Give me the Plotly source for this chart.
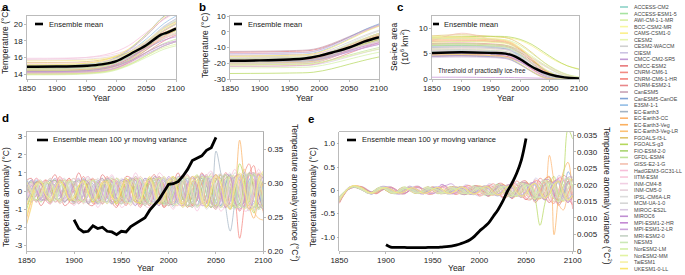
import plotly.graph_objects as go

W, H = 685, 275
def px(x): return x / W
def py(y): return 1 - y / H

models = ['ACCESS-CM2','ACCESS-ESM1-5','AWI-CM-1-1-MR','BCC-CSM2-MR','CAMS-CSM1-0','CESM2','CESM2-WACCM','CIESM',
          'CMCC-CM2-SR5','CMCC-ESM2','CNRM-CM6-1','CNRM-CM6-1-HR','CNRM-ESM2-1','CanESM5','CanESM5-CanOE','E3SM-1-1',
          'EC-Earth3','EC-Earth3-CC','EC-Earth3-Veg','EC-Earth3-Veg-LR','FGOALS-f3-L','FGOALS-g3','FIO-ESM-2-0','GFDL-ESM4',
          'GISS-E2-1-G','HadGEM3-GC31-LL','IITM-ESM','INM-CM4-8','INM-CM5-0','IPSL-CM6A-LR','MCM-UA-1-0','MIROC-ES2L',
          'MIROC6','MPI-ESM1-2-HR','MPI-ESM1-2-LR','MRI-ESM2-0','NESM3','NorESM2-LM','NorESM2-MM','TaiESM1','UKESM1-0-LL']
colors = ['#8dd3c7','#a6e3a0','#d9f0a3','#f7f7a0','#fbf08a','#e6f5b0','#d0d0d0','#cbc3e3','#c09ad6','#e8787a','#f28b82',
          '#f4827a','#e9878a','#c8a2b4','#7fa3d6','#92bde6','#a3b3c3','#fdb46e','#fbb060','#fcc176','#e0c46c','#b5d85c',
          '#a8d470','#bfe39a','#f3bfae','#f7bfd9','#f9c6da','#f1cfe3','#e8d2dc','#dcdcdc','#d6d6d6','#d9c9e2','#c08fd2',
          '#c48ad3','#cba4db','#c4d2c4','#cbe8b6','#d2f0a6','#e2f3a3','#f6f0a4','#f9e66e']

# ---- panel a: global temperature (°C) ----
years_ab = [1850, 1950, 1990, 2020, 2050, 2080, 2100]
temp_a = [
 [14.6,14.8,15.3,16.2,17.8,19.6,20.4],[14.3,14.4,14.8,15.6,16.9,18.3,18.9],[14.9,15.0,15.3,16.0,17.3,18.6,19.2],
 [15.2,15.3,15.7,16.5,17.7,19.0,19.6],[15.6,15.7,16.0,16.6,17.6,18.5,19.0],[14.6,14.7,15.2,16.2,17.8,19.6,20.5],
 [14.8,14.9,15.3,16.3,17.9,19.8,20.6],[14.2,14.4,15.0,16.1,17.8,19.7,20.7],[14.5,14.6,15.0,15.9,17.3,18.9,19.6],
 [14.4,14.5,14.9,15.8,17.2,18.8,19.5],[14.0,14.1,14.5,15.4,16.9,18.5,19.3],[14.7,14.8,15.2,16.1,17.6,19.2,20.0],
 [14.1,14.2,14.5,15.3,16.6,18.0,18.7],[14.8,15.0,15.6,16.8,18.6,20.7,21.5],[14.9,15.1,15.7,16.9,18.8,21.0,21.8],
 [15.0,15.2,15.6,16.6,18.2,20.1,21.0],[14.3,14.4,14.8,15.7,17.2,18.8,19.5],[14.6,14.7,15.2,16.2,17.8,19.5,20.3],
 [14.5,14.6,15.1,16.1,17.7,19.3,20.1],[14.2,14.3,14.7,15.6,17.1,18.6,19.3],[15.4,15.5,15.9,16.6,17.8,19.0,19.6],
 [14.0,14.1,14.4,15.1,16.2,17.4,17.9],[14.7,14.8,15.2,16.0,17.3,18.7,19.3],[14.4,14.5,14.8,15.5,16.6,17.7,18.2],
 [14.9,15.0,15.4,16.1,17.2,18.3,18.8],[15.8,16.0,16.5,17.4,19.0,20.6,21.4],[15.3,15.4,15.7,16.4,17.5,18.4,18.8],
 [15.9,16.0,16.3,16.9,17.8,18.6,19.0],[15.7,15.8,16.1,16.7,17.6,18.4,18.8],[14.6,14.7,15.1,16.1,17.7,19.6,20.4],
 [15.1,15.2,15.6,16.4,17.8,19.3,20.0],[14.1,14.2,14.5,15.2,16.3,17.4,17.9],[14.8,14.9,15.3,16.0,17.1,18.1,18.5],
 [14.3,14.4,14.8,15.5,16.6,17.6,18.0],[14.2,14.3,14.6,15.4,16.4,17.4,17.9],[14.8,14.9,15.3,16.1,17.4,18.8,19.4],
 [14.6,14.7,15.1,16.0,17.6,19.3,20.1],[13.9,14.0,14.3,15.0,16.0,17.0,17.4],[14.0,14.1,14.4,15.1,16.2,17.2,17.6],
 [15.0,15.1,15.6,16.5,18.0,19.5,20.2],[15.1,15.3,15.9,17.0,18.8,20.9,21.6]]
mean_a_years = [1850, 1900, 1950, 1975, 2000, 2025, 2050, 2075, 2085, 2100]
mean_a = [14.88, 14.9, 15.0, 15.16, 15.56, 16.48, 17.48, 18.76, 19.0, 19.48]

# ---- panel b: Arctic temperature (°C) ----
temp_b = [
 [-19,-18.5,-17.6,-14.2,-9.5,-4.7,-2],[-20,-19.6,-18.9,-16.1,-12.2,-8.2,-6],[-17,-16.6,-16,-13.4,-9.7,-6.1,-4],
 [-18,-17.6,-16.9,-14.1,-10.2,-6.2,-4],[-16,-15.6,-15,-12.6,-9.3,-5.9,-4],[-17,-16.5,-15.7,-12.5,-8,-3.6,-1],
 [-16,-15.5,-14.6,-11.2,-6.5,-1.7,1],[-20,-19.5,-18.6,-15,-9.9,-4.9,-2],[-17,-16.6,-15.8,-12.8,-8.6,-4.4,-2],
 [-13,-12.5,-11.6,-8.2,-3.5,1.3,4],[-21,-20.5,-19.7,-16.5,-12,-7.6,-5],[-19,-18.5,-17.6,-14.2,-9.5,-4.7,-2],
 [-22,-21.6,-20.8,-17.8,-13.6,-9.4,-7],[-12.5,-12,-11.1,-7.7,-3,1.8,4.5],[-14,-13.4,-12.5,-8.7,-3.4,2,5],
 [-15,-14.4,-13.5,-9.7,-4.4,1,4],[-19,-18.6,-17.8,-14.8,-10.6,-6.4,-4],[-18,-17.5,-16.6,-13.2,-8.5,-3.7,-1],
 [-18.5,-18,-17.2,-14,-9.5,-5.1,-2.5],[-20,-19.6,-18.8,-15.8,-11.6,-7.4,-5],[-17,-16.6,-16,-13.6,-10.3,-6.9,-5],
 [-26.5,-26.2,-25.7,-23.6,-20.6,-17.7,-16],[-19,-18.6,-17.9,-15.1,-11.2,-7.2,-5],[-21,-20.7,-20.1,-17.9,-14.8,-11.8,-10],
 [-18,-17.6,-17,-14.6,-11.3,-7.9,-6],[-14,-13.5,-12.6,-9,-3.9,1.1,4],[-15,-14.7,-14.1,-11.9,-8.8,-5.8,-4],
 [-17,-16.7,-16.2,-14.2,-11.4,-8.6,-7],[-16.5,-16.2,-15.7,-13.7,-10.9,-8.1,-6.5],[-17.5,-17,-16.1,-12.5,-7.4,-2.4,0.5],
 [-20.5,-20,-19.3,-16.3,-12.1,-7.9,-5.5],[-22,-21.7,-21.1,-18.9,-15.8,-12.8,-11],[-19,-18.7,-18.1,-15.9,-12.8,-9.8,-8],
 [-18,-17.7,-17.1,-14.9,-11.8,-8.8,-7],[-18.5,-18.2,-17.7,-15.6,-12.6,-9.7,-8],[-19,-18.6,-17.8,-14.8,-10.6,-6.4,-4],
 [-17,-16.5,-15.7,-12.5,-8,-3.6,-1],[-23,-22.7,-22.2,-20.2,-17.4,-14.6,-13],[-21,-20.7,-20.2,-18.2,-15.4,-12.6,-11],
 [-18,-17.5,-16.7,-13.5,-9,-4.6,-2],[-15.5,-14.9,-14,-10.2,-4.9,0.5,3.5]]
mean_b_years = [1850, 1900, 1950, 1975, 2000, 2025, 2050, 2075, 2100]
mean_b = [-18.4, -18.2, -17.6, -17.0, -15.3, -12.8, -10.0, -6.3, -3.5]

# ---- panel c: sea-ice area (10^6 km2) ----
years_c = [1850, 1900, 1950, 1980, 2000, 2020, 2040, 2060, 2080, 2100]
ice_c = [
 [5.5,5.6,5.4,5.1,4.0,2.4,0.9,0.1,0,0],[6.5,6.6,6.4,6.0,4.8,3.0,1.4,0.3,0,0],[6.0,6.1,6.0,5.7,4.6,3.0,1.5,0.5,0.1,0],
 [7.2,7.4,7.2,6.8,5.5,3.6,1.8,0.6,0.1,0],[8.3,8.4,8.3,8.1,7.6,6.5,5.0,3.6,2.6,2.0],[5.8,5.9,5.7,5.3,4.0,2.2,0.7,0.1,0,0],
 [6.1,6.2,6.0,5.6,4.3,2.4,0.8,0.1,0,0],[5.0,5.1,5.0,4.8,3.9,2.5,1.1,0.3,0,0],[4.6,4.7,4.6,4.3,3.3,1.9,0.6,0.1,0,0],
 [4.8,4.9,4.7,4.4,3.5,2.0,0.7,0.1,0,0],[6.8,6.9,6.7,6.3,5.0,3.2,1.4,0.4,0,0],[7.4,7.5,7.4,7.0,5.8,3.9,1.9,0.6,0.1,0],
 [7.0,7.1,6.9,6.5,5.3,3.5,1.7,0.5,0,0],[4.4,4.5,4.3,3.9,2.8,1.4,0.3,0,0,0],[4.5,4.6,4.4,4.0,2.9,1.5,0.4,0,0,0],
 [6.4,6.5,6.3,5.8,4.4,2.5,0.8,0.1,0,0],[6.2,6.4,6.2,5.8,4.7,3.0,1.3,0.3,0,0],[7.8,7.9,7.7,7.2,5.8,3.7,1.6,0.4,0,0],
 [8.0,8.2,7.9,7.4,6.0,3.9,1.8,0.5,0,0],[7.6,7.7,7.5,7.1,5.9,4.0,2.0,0.7,0.1,0],[8.5,8.7,8.4,8.0,6.9,5.2,3.3,1.8,0.8,0.3],
 [8.2,8.3,8.4,8.3,7.8,6.8,5.3,3.8,2.6,1.9],[6.6,6.7,6.5,6.2,5.2,3.6,2.0,0.8,0.2,0],[6.9,7.0,6.8,6.5,5.6,4.2,2.7,1.4,0.5,0.1],
 [7.5,9.0,7.8,7.0,5.6,3.6,1.6,0.4,0,0],[5.2,5.3,5.1,4.7,3.5,1.8,0.5,0,0,0],[5.6,5.7,5.5,5.2,4.3,2.9,1.5,0.5,0.1,0],
 [5.9,6.0,5.9,5.7,5.0,3.9,2.6,1.4,0.6,0.2],[6.3,6.4,6.3,6.1,5.4,4.2,2.9,1.7,0.8,0.3],[5.3,5.4,5.2,4.9,3.8,2.2,0.8,0.1,0,0],
 [5.0,5.1,5.2,5.0,4.3,3.2,2.0,1.1,0.4,0.1],[4.2,4.3,4.2,4.0,3.3,2.2,1.1,0.4,0.1,0],[4.5,4.6,4.5,4.2,3.4,2.2,1.0,0.3,0,0],
 [0.35,0.35,0.3,0.3,0.25,0.2,0.15,0.1,0.05,0],[4.9,5.0,4.9,4.6,3.7,2.3,1.0,0.2,0,0],[5.7,5.8,5.6,5.3,4.2,2.6,1.1,0.2,0,0],
 [6.7,6.8,6.6,6.2,4.9,3.0,1.2,0.2,0,0],[7.9,8.0,7.9,7.6,6.6,5.0,3.3,1.9,0.9,0.4],[7.3,7.4,7.3,7.0,6.0,4.5,2.9,1.5,0.6,0.2],
 [8.1,8.2,8.0,7.5,6.2,4.2,2.2,0.8,0.2,0],[4.7,4.8,4.6,4.2,3.0,1.5,0.3,0,0,0]]
mean_c_years = [1850, 1900, 1950, 1975, 1990, 2000, 2025, 2050, 2075, 2100]
mean_c = [5.13, 5.26, 5.13, 5.0, 4.5, 3.9, 2.1, 0.9, 0.32, 0.13]

# ---- panel d: temperature anomaly, tenths of °C, every 5 years 1850-2100 ----
years_de = list(range(1850, 2101, 5))
anom_d = [
"2 6 1 -5 -3|4 6 -1 -6 -2|5 5 -2 -6 1|6 3 -4 -5 2|6 1 -6 -4 3|7 0 -6 -3 5|6 -2 -7 0 7|4 -5 -6 3 8|1 -8 -4 6 7|-3 -9 1 9 3|-6",
"-4 -6 1 5 2|-4 -5 2 6 0|-6 -3 4 5 -2|-6 0 6 3 -4|-5 2 6 0 -6|-3 4 6 -2 -7|1 7 3 -5 -6|3 8 0 -8 -4|6 7 -3 -9 1|9 4 -7 -7 4|8",
"1 4 5 -1 -5|-2 4 5 0 -5|-3 3 5 -1 -6|-1 5 4 -3 -5|1 6 2 -5 -4|3 6 -1 -6 -1|6 4 -4 -6 2|7 1 -7 -3 6|7 -3 -8 1 8|3 -7 -6 5 8|-1",
"-18 -9 3 6 0|-5 -3 4 5 -2|-6 0 5 3 -4|-4 3 6 -1 -6|-1 5 4 -3 -5|2 6 0 -6 -3|4 6 -2 -7 0|7 3 -6 -5 4|8 -1 -8 -2 7|6 -5 -8 3 9|0",
"-12 -5 4 5 -1|-5 -2 4 4 -2|-5 1 5 2 -4|-4 2 5 0 -5|-2 4 4 -2 -5|0 5 3 -4 -5|2 6 0 -6 -3|5 5 -3 -6 1|6 2 -5 -4 3|6 -1 -6 -1 6|4",
"4 0 -5 -3 4|6 -1 -6 -1 6|3 -5 -5 3 6|-1 -7 -2 6 5|-3 -7 1 7 2|-6 -5 4 7 -2|-8 -1 7 5 -4|-7 2 8 1 -7|-5 5 8 -3 -9|0 9 5 -6 -8|3",
"-6 -1 5 6 -1|-7 -3 5 7 0|-7 -4 4 8 2|-7 -6 3 8 3|-6 -7 1 8 5|-4 -8 -1 7 7|-2 -9 -3 6 9|1 -9 -6 4 10|3 -8 -9 2 10|7 -6 -11 -1 10|8",
"1 -3 -3 2 4|0 -4 -2 3 4|-1 -5 0 5 2|-3 -4 2 5 0|-4 -3 3 5 -1|-5 -1 5 4 -3|-5 1 6 2 -5|-4 3 7 -1 -7|-2 6 6 -4 -7|1 8 3 -6 -5|4",
"-2 3 5 0 -5|-3 3 6 0 -5|-4 2 6 2 -5|-5 1 6 3 -4|-6 0 6 4 -3|-6 -1 6 5 -2|-7 -3 5 7 0|-7 -4 4 8 1|-7 -6 3 9 3|-7 -8 1 9 5|-4",
"6 7 -1 -8 -4|5 9 1 -8 -6|3 10 3 -7 -8|1 9 5 -6 -9|-1 8 7 -4 -9|-3 6 9 -1 -9|-6 4 10 1 -8|-8 2 10 4 -7|-10 -1 10 7 -5|-11 -4 9 10 -2|-11",
"-5 1 7 4 -5|-7 1 8 3 -6|-7 2 8 2 -7|-6 3 8 1 -8|-5 5 7 -1 -8|-4 6 7 -2 -9|-3 7 6 -4 -9|-1 8 5 -6 -9|1 9 3 -7 -8|3 10 15 2 -10|-4",
"3 -2 -6 0 6|4 -4 -6 2 7|1 -6 -5 4 7|-1 -7 -3 6 6|-3 -8 -1 7 5|-5 -8 1 8 3|-7 -7 3 9 1|-8 -5 5 9 -2|-9 -3 7 8 -3|-26 -8 9 14 -2|-7",
"-2 -6 -2 4 6|0 -6 -4 4 7|-1 -7 -2 6 6|-3 -7 0 7 4|-5 -6 2 8 2|-7 -4 4 8 -1|-8 -2 6 7 -3|-8 0 8 6 -5|-8 2 9 4 -7|-7 5 10 1 -9|-5",
"0 5 3 -4 -5|1 6 2 -5 -4|2 6 0 -6 -3|4 6 -1 -6 -2|5 5 -3 -6 0|6 4 -5 -5 2|7 2 -6 -4 4|7 0 -7 -2 6|7 -2 -8 0 8|6 -4 -8 2 9|4",
"6 1 -5 -4 3|6 0 -6 -3 5|5 -2 -6 -1 6|4 -4 -6 1 7|2 -6 -5 3 7|0 -7 -3 5 6|-2 -8 -1 7 5|-4 -8 1 8 3|-6 -8 4 9 1|-8 -6 6 9 -2|-9",
"-5 0 6 4 -3|-6 0 6 3 -4|-6 1 7 2 -5|-6 2 7 1 -6|-5 3 7 -1 -7|-4 5 7 -2 -8|-3 6 6 -4 -9|-1 8 5 -6 -9|1 9 3 -8 -8|3 10 1 -9 -7|6",
"3 -2 -5 1 5|2 -4 -4 3 5|0 -5 -2 4 4|-2 -5 0 5 2|-4 -4 2 6 0|-5 -3 4 6 -2|-6 -1 5 5 -4|-6 1 7 3 -6|22 10 -8 -22 -6|8 9 -3 -9 0|6",
"-15 -5 5 5 -3|-6 1 6 2 -5|-4 3 6 -1 -6|-1 5 4 -4 -6|2 7 1 -6 -4|4 7 -2 -7 -1|6 5 -5 -7 2|8 3 -7 -6 5|9 0 -9 -4 8|8 -3 -10 -1 10|-12",
"-8 -2 4 4 -2|-5 0 5 3 -4|-5 2 6 1 -6|-3 4 6 -2 -7|-1 6 5 -4 -7|1 7 3 -6 -6|3 8 1 -8 -5|5 8 -1 -9 -3|7 7 -4 -10 0|28 6 -8 -15 -4|5",
"-18 -8 2 5 1|-5 -3 4 6 -1|-6 -1 6 4 -3|-6 1 7 2 -5|-5 3 7 0 -7|-4 5 7 -2 -8|-2 7 6 -4 -9|0 8 4 -6 -9|2 9 2 -8 -8|5 12 -2 -11 -15|-16",
"2 -3 -5 1 5|3 -4 -5 2 6|2 -5 -5 4 6|0 -6 -3 5 5|-2 -7 -1 6 4|-4 -7 1 7 2|-6 -6 3 8 0|-7 -5 5 8 -2|-8 -3 7 7 -5|-9 0 9 6 -7|-8",
"-10 -2 5 4 -3|-6 0 6 2 -5|-5 2 6 0 -6|-4 4 6 -2 -7|-2 5 5 -4 -7|0 7 4 -6 -6|2 8 2 -7 -5|4 9 0 -9 -3|6 9 -2 -10 -1|15 7 -5 -12 2|10",
"4 5 -1 -6 -2|5 6 -1 -6 -3|4 6 0 -7 -4|3 7 1 -7 -5|2 7 3 -6 -6|0 7 4 -5 -7|-1 7 6 -4 -8|-3 6 7 -2 -9|-5 5 9 0 -9|-7 3 10 2 -9|-8",
"-1 4 4 -2 -5|-1 4 5 -1 -5|-2 3 5 0 -5|-3 2 6 1 -5|-4 1 6 3 -5|-5 0 6 4 -4|-6 -1 6 5 -3|-7 -3 6 7 -2|-8 -4 5 8 0|-8 -6 4 9 2|-7",
"5 0 -6 -3 4|7 0 -7 -3 5|7 -1 -7 -2 6|6 -2 -7 -1 7|5 -4 -8 1 8|4 -5 -8 2 8|2 -7 -8 4 9|0 -8 -7 6 9|-2 -9 -5 8 8|-4 -10 -3 10 7|-6",
"-3 3 7 3 -5|-7 -1 7 6 -3|-8 -3 6 8 -1|-9 -5 4 9 2|-9 -7 3 10 4|-8 -9 1 10 7|-6 -10 -2 9 9|-4 -11 -5 8 11|-1 -11 -8 6 12|2 -11 -10 3 12|6",
"1 4 2 -3 -4|1 5 1 -4 -3|2 5 0 -5 -2|3 5 -1 -5 -1|4 4 -2 -5 0|5 4 -3 -6 1|6 3 -5 -6 3|7 2 -6 -5 5|8 0 -8 -4 7|8 -2 -9 -2 9|7",
"-4 0 4 3 -2|-5 -1 4 4 -1|-5 -2 3 5 1|-5 -3 2 5 2|-4 -4 1 6 3|-3 -5 0 6 5|-2 -6 -2 5 6|0 -7 -4 4 7|1 -7 -5 2 8|3 -7 -7 1 8|5",
"3 4 -1 -5 -2|4 5 -1 -6 -2|4 6 -2 -6 -1|5 6 -2 -7 -1|5 7 -3 -7 0|6 7 -3 -8 0|6 8 -4 -8 1|7 8 -4 -9 1|8 9 -5 -9 2|8 9 -6 -10 2|9",
"-2 -6 -1 5 4|-3 -6 0 6 3|-4 -7 1 7 2|-5 -7 2 7 1|-6 -7 3 8 0|-7 -6 4 8 -1|-8 -5 5 9 -2|-9 -4 6 9 -3|-10 -3 7 10 -4|-10 -2 9 10 -5|-10",
"7 1 -6 -4 3|7 1 -6 -5 2|7 2 -6 -6 1|7 3 -5 -7 0|7 4 -5 -8 -1|6 5 -4 -8 -3|5 7 -3 -9 -4|4 8 -2 -10 -6|3 10 0 -10 -8|2 11 2 -10 -10|0",
"-1 -4 -1 3 3|-1 -4 -2 3 4|0 -4 -3 2 5|1 -4 -4 1 5|2 -3 -5 0 5|3 -3 -6 -1 6|4 -2 -6 -2 6|5 -1 -7 -4 6|6 1 -7 -5 6|7 2 -7 -7 5|7",
"2 6 1 -5 -4|3 7 0 -6 -3|4 7 -1 -7 -2|5 7 -3 -7 -1|6 6 -4 -8 1|7 5 -5 -8 2|8 4 -7 -8 4|8 2 -8 -7 6|9 0 -9 -6 8|9 -2 -10 -4 9|7",
"-5 -1 5 4 -3|-6 -1 6 4 -3|-6 -2 6 5 -3|-7 -2 7 5 -4|-7 -3 7 6 -4|-8 -3 8 6 -5|-8 -4 8 7 -5|-9 -4 9 7 -6|-9 -5 9 8 -6|-10 -5 10 8 -7|-10",
"0 3 0 -4 -1|4 3 -3 -4 1|5 1 -5 -3 3|5 -1 -6 -1 5|4 -3 -6 1 6|3 -5 -6 3 7|1 -7 -5 5 7|-1 -8 -3 7 6|-3 -9 -1 9 5|-5 -9 2 10 2|-8",
"-6 -2 4 5 -1|-6 -2 5 5 -2|-7 -1 6 4 -4|-7 0 7 4 -5|-7 1 7 3 -6|-7 2 8 2 -7|-7 4 8 0 -8|-6 5 9 -1 -9|-5 7 9 -3 -10|-4 8 9 -5 -10|-2",
"3 -1 -5 -2 4|4 -2 -5 -1 5|3 -3 -6 0 6|2 -5 -6 2 7|1 -6 -6 3 7|-1 -7 -5 5 7|-2 -8 -4 6 7|-4 -9 -2 8 6|-6 -9 0 9 5|-8 -9 2 10 3|-9",
"-3 -5 1 5 2|-4 -5 2 6 1|-5 -5 3 6 0|-6 -5 4 7 -1|-7 -4 5 7 -2|-8 -3 6 7 -4|-8 -2 7 7 -5|-9 -1 8 6 -7|-9 1 9 6 -8|-9 3 10 4 -10|-9",
"5 0 -5 -2 4|5 -1 -6 -1 5|5 -2 -6 0 6|4 -3 -7 1 7|4 -5 -7 2 7|3 -6 -7 4 8|2 -7 -7 5 8|0 -8 -6 7 8|-1 -9 -5 8 8|-3 -10 -4 9 7|-5",
"-7 -1 4 3 -2|-4 1 5 1 -4|-3 3 5 -1 -5|-1 4 4 -3 -5|1 5 2 -4 -5|3 6 0 -6 -4|5 6 -2 -7 -2|6 5 -4 -8 0|8 4 -6 -8 2|9 2 -8 -8 5|9",
"-14 -4 4 5 -2|-6 0 6 2 -5|-4 3 6 -1 -6|-2 5 5 -3 -7|1 7 3 -6 -6|3 8 1 -7 -4|6 8 -2 -9 -2|8 7 -5 -9 1|9 5 -7 -10 4|10 2 -10 -9 7|11"]
var_years = list(range(1900, 2051, 5))
var_d = [0.246,0.233,0.228,0.229,0.237,0.233,0.235,0.229,0.228,0.224,0.229,0.228,0.236,0.240,0.245,0.249,
         0.260,0.268,0.276,0.287,0.298,0.299,0.302,0.310,0.320,0.333,0.337,0.340,0.348,0.352,0.367]

# ---- panel e: temperature anomaly, hundredths of °C ----
anom_e = [
"-20 -6 4 8 6|2 -4 -8 1 8|4 -5 -7 0 6|4 -4 -6 1 7|3 -5 -7 1 8|2 -6 -8 1 9|4 -8 -12 2 14|8 -10 -16 4 18|10 -12 -22 6 24|12 -18 -24 8 28|4",
"-15 -4 5 9 6|1 -6 -4 4 6|0 -6 -4 4 7|1 -6 -6 3 7|0 -7 -5 4 8|0 -8 -6 5 10|-2 -10 -7 8 13|-3 -12 -8 12 16|-6 -20 -8 16 22|-8 -24 -10 20 26|-10",
"-25 -8 3 7 7|5 -2 -6 -2 4|6 0 -6 -2 4|6 2 -6 -4 4|7 0 -7 -4 5|8 0 -8 -4 6|9 1 -10 -6 7|12 2 -14 -8 10|18 2 -20 -14 14|24 4 -26 -18 18|26",
"-18 -6 4 10 8|4 -4 -7 -2 5|7 0 -7 -5 3|8 2 -6 -5 3|7 3 -7 -6 3|8 4 -8 -7 5|10 5 -11 -9 6|13 7 -14 -12 8|18 10 -20 -18 10|24 14 -26 -22 12|30",
"-22 -7 3 8 8|5 0 -5 -4 3|6 2 -4 -5 2|5 3 -3 -6 0|4 5 -2 -7 -2|5 6 -2 -8 -3|6 9 -2 -10 -5|6 11 -3 -13 -6|8 16 -4 -18 -10|10 22 -6 -24 -14|12",
"-12 -3 5 7 5|1 -4 -6 3 8|3 -5 -7 3 8|1 -6 -5 5 7|0 -6 -5 6 7|-1 -8 -4 8 8|-3 -10 -2 10 9|-5 -13 -1 13 10|-8 -18 0 18 14|-12 -24 2 24 16|-14",
"-16 -5 6 8 4|0 -5 -4 2 5|2 -4 -5 0 5|3 -2 -6 -2 5|4 0 -6 -3 5|5 1 -7 -4 6|7 2 -8 -6 6|9 3 -10 -8 7|14 4 -15 -12 10|18 6 -20 -16 14|20",
"-20 -8 2 6 8|8 2 -4 -7 0|7 8 1 -7 -8|0 8 9 1 -8|-6 3 12 7 -6|-8 0 12 8 -8|-12 -2 14 10 -8|-16 -4 20 14 -10|-20 -6 26 18 -14|-26 -8 32 22 -18|-28",
"-14 -4 5 9 7|2 -5 -8 0 8|8 1 -7 -8 1|9 4 -6 -8 0|7 6 -3 -7 -3|5 7 0 -9 -5|3 9 3 -9 -9|2 12 6 -10 -14|0 16 12 -12 -20|-2 20 18 -14 -26|-4",
"-24 -8 2 6 5|3 -4 -4 3 5|0 -5 -4 3 6|1 -5 -6 2 7|2 -5 -7 2 8|4 -6 -9 0 10|8 -6 -13 -2 14|14 -4 -18 -6 18|20 -6 -26 -10 24|28 -8 -32 -14 20|-40",
"-18 -6 4 9 9|6 0 -6 -6 0|6 6 0 -7 -7|0 7 8 0 -8|-8 0 9 8 -3|-9 -4 9 10 0|-12 -8 8 14 4|-16 -14 6 20 10|-18 -20 4 26 16|-20 -28 0 32 24|-16",
"-28 -10 2 8 9|7 1 -5 -7 -1|4 7 3 -4 -6|-1 6 6 0 -6|-4 3 7 3 -4|-6 0 8 5 -5|-9 -2 10 7 -6|-14 -4 14 12 -8|-20 -8 20 18 -12|-26 -14 26 24 -14|-32",
"-20 -7 4 8 7|3 -4 -6 0 6|5 -1 -6 -3 4|6 0 -6 -4 3|7 1 -6 -6 1|7 2 -6 -7 0|9 4 -7 -10 0|12 6 -8 -12 -2|16 10 -12 -18 -4|20 14 -16 -22 -6|24",
"-16 -4 6 9 6|1 -5 -6 2 6|4 -3 -6 0 6|4 -2 -6 -1 5|4 0 -7 -3 4|5 1 -7 -4 5|6 2 -9 -6 7|8 4 -12 -8 9|12 6 -16 -12 12|16 8 -20 -16 16|18",
"-22 -7 4 8 6|3 -3 -7 -3 4|7 3 -4 -7 -1|6 6 -2 -7 -4|4 7 1 -7 -7|2 8 4 -7 -9|0 9 7 -7 -12|-2 10 10 -6 -15|-4 14 14 -8 -20|-6 18 20 -10 40|20",
"-18 -6 5 9 7|4 -2 -5 -2 3|5 2 -3 -5 0|5 3 -2 -5 -2|3 5 0 -6 -3|3 6 1 -7 -5|1 7 3 -7 -8|0 9 6 -7 -10|-2 12 10 -9 -14|-4 16 14 -12 -18|-6",
"-14 -4 5 8 5|0 -5 -5 2 6|3 -3 -6 0 6|4 -3 -6 -2 6|4 -2 -7 -3 6|5 -1 -8 -4 6|7 -2 -10 -5 8|10 -2 -14 -6 10|14 -2 -18 -8 14|18 -4 -22 -10 18|22",
"-26 -9 3 8 8|5 -2 -6 -3 3|6 2 -4 -6 -2|4 5 -2 -6 -5|1 6 3 -5 -7|-2 7 6 -3 -8|-4 7 9 0 -10|-8 6 14 4 -14|-12 8 22 10 -20|75 18 -30 -42 -8|12",
"-22 -8 4 9 7|2 -4 -6 0 5|3 -4 -5 2 6|3 -4 -6 0 6|4 -3 -7 0 7|5 -4 -8 0 8|6 -4 -10 -1 10|10 -5 -14 -2 15|16 -6 -20 -4 22|30 -95 -10 40 60|-20",
"-20 -6 5 9 6|1 -5 -5 3 6|1 -5 -5 2 6|2 -4 -6 0 6|3 -3 -7 -1 5|4 -2 -7 -3 5|6 0 -9 -6 4|9 2 -10 -10 4|14 4 -14 -16 4|20 6 -18 -22 4|24",
"-16 -5 5 8 5|0 -5 -4 3 5|0 -5 -4 3 6|0 -5 -5 3 6|0 -6 -5 3 7|0 -7 -5 4 8|0 -8 -7 5 10|0 -10 -9 6 13|0 -14 -12 8 18|0 -18 -16 10 24|2",
"-18 -6 4 8 6|3 -3 -6 -2 4|5 0 -5 -3 3|5 2 -4 -5 1|4 3 -3 -6 0|4 4 -3 -6 -2|4 5 -3 -8 -3|6 8 -4 -12 -6|10 12 -20 -75 -30|10 30 -10 30 130|110",
"-24 -8 3 8 8|5 -1 -5 -4 1|5 2 -3 -5 -2|3 4 -1 -6 -3|1 5 2 -6 -5|0 6 4 -5 -7|-2 6 7 -5 -10|-4 6 10 -4 -13|-6 8 14 -6 -18|-8 10 18 -8 -22|-10",
"-14 -4 5 8 5|1 -4 -5 2 5|1 -4 -5 2 6|1 -4 -5 2 6|1 -5 -6 2 7|1 -5 -6 3 8|2 -7 -9 3 11|3 -8 -12 4 14|4 -12 -16 6 20|6 -16 -22 8 26|8",
"-20 -7 4 9 7|4 -2 -6 -3 3|6 2 -4 -6 0|6 4 -3 -7 -3|4 6 0 -7 -5|2 7 2 -7 -7|1 9 5 -8 -10|0 11 9 -8 -14|-2 14 14 -10 -20|-4 18 20 -12 -26|-6",
"-16 -5 5 10 8|4 -3 -7 -4 3|7 4 -3 -7 -4|2 7 3 -6 -7|0 7 7 -3 -8|-3 6 9 0 -8|-6 4 12 4 -8|-10 2 16 10 -8|-16 0 22 16 -10|-22 -4 28 24 -10|-28",
"-22 -8 3 7 6|3 -4 -5 2 5|2 -4 -4 3 5|0 -5 -4 3 6|0 -6 -3 4 7|-1 -7 -3 6 8|-2 -9 -2 8 10|-4 -12 -2 12 14|-6 -18 -2 18 20|-8 -24 -2 24 26|-10",
"-18 -6 4 8 6|3 -3 -5 0 5|3 -2 -5 -2 4|3 0 -5 -3 3|4 1 -5 -4 3|5 2 -5 -5 2|6 3 -7 -6 2|9 4 -9 -9 3|12 6 -12 -13 4|16 8 -16 -18 4|20",
"-14 -4 6 9 5|0 -6 -6 3 7|3 -4 -7 0 7|4 -3 -7 -1 6|5 -1 -7 -3 5|6 0 -7 -4 5|7 2 -8 -6 4|10 4 -10 -10 3|14 6 -14 -14 4|18 8 -18 -18 4|22",
"-20 -6 5 9 6|1 -5 -6 2 6|3 -3 -6 0 6|3 -3 -5 2 6|2 -4 -6 1 7|2 -5 -7 1 8|2 -6 -9 1 10|2 -9 -13 2 14|2 -12 -18 2 20|2 -16 -24 2 26|2",
"-24 -8 4 8 7|4 -2 -6 -4 2|5 3 -3 -6 -3|4 5 0 -6 -4|2 6 2 -6 -6|1 7 4 -6 -8|-1 8 6 -5 -10|-3 9 10 -4 -13|-5 12 15 -4 -18|-7 16 20 -4 -24|-9",
"-16 -5 5 9 6|2 -4 -6 0 5|4 0 -5 -3 3|4 2 -4 -5 1|4 3 -3 -6 -1|3 4 -2 -7 -2|4 6 -2 -9 -5|5 9 -2 -11 -8|6 12 -2 -15 -12|7 16 -2 -20 -16|8",
"-20 -7 3 7 7|5 0 -4 -4 0|4 6 2 -4 -6|-1 4 7 3 -4|-7 -3 8 11 14|6 -7 -9 2 9|4 -7 -11 0 10|10 -8 -16 0 16|16 -10 -22 0 22|22 -12 -28 0 28|28",
"-26 -9 3 8 8|5 -2 -6 -4 2|6 3 -3 -6 -3|4 5 0 -6 -4|1 5 13 5 -7|-5 4 8 -1 -6|-2 6 9 -2 -10|-4 10 12 -2 -14|-6 14 18 -4 -20|-8 18 24 -6 -26|-10",
"-18 -6 5 9 7|4 -3 -6 -2 4|6 2 -4 -6 0|6 4 -3 -7 -3|4 6 0 -7 -5|2 7 2 -7 -7|0 8 6 -7 -10|-2 10 10 -6 -14|-4 14 14 -8 -18|-6 18 18 -10 -22|-8",
"-14 -4 5 8 5|0 -5 -5 2 6|3 -3 -6 0 5|3 -2 -6 -2 5|4 0 -6 -3 4|5 0 -7 -4 5|6 0 -9 -5 6|9 1 -12 -8 8|12 2 -16 -12 12|16 2 -20 -16 16|20",
"-22 -7 3 7 6|3 -3 -5 0 4|3 -2 -5 -2 4|3 0 -5 -3 3|3 2 -4 -5 1|3 3 -4 -6 0|4 4 -5 -8 -2|6 6 -6 -12 -4|8 9 -8 -16 -8|10 12 -10 -22 -12|14",
"-18 -6 4 8 6|3 -3 -6 0 5|4 -2 -6 -2 4|4 0 -5 -3 4|4 1 -5 -4 3|4 2 -6 -6 2|6 4 -7 -8 2|8 6 -10 -12 2|12 8 -14 -16 2|16 12 -18 -22 2|20",
"-16 -5 5 9 6|1 -5 -5 3 6|1 -5 -5 2 6|1 -5 -6 2 7|1 -5 -6 2 7|1 -6 -7 2 9|2 -7 -9 2 12|3 -10 -13 3 16|4 -14 -18 4 22|6 -18 -24 6 28|8",
"-20 -6 5 10 8|4 -3 -6 -2 4|6 2 -4 -6 -2|4 5 -2 -7 -4|2 6 1 -7 -6|0 7 3 -6 -8|-2 7 6 -6 -10|-4 8 10 -5 -14|-6 10 14 -6 -18|-8 12 18 -8 -22|-10",
"-24 -8 4 10 9|5 -2 -6 -4 2|6 3 -3 -6 -3|4 5 0 -6 -4|2 6 3 -5 -6|0 7 5 -4 -7|-2 7 7 -3 -9|-4 8 11 -2 -12|-6 10 15 -2 -16|-8 12 20 -2 -20|-10"]
var_e = [0.0019,0.0012,0.0011,0.0011,0.0011,0.0010,0.0010,0.0010,0.0010,0.0011,0.0011,0.0011,0.0012,0.0013,0.0015,0.0018,
         0.0022,0.0027,0.0034,0.0045,0.0060,0.0072,0.0085,0.0105,0.0125,0.0150,0.0180,0.0205,0.0235,0.0275,0.0340]


def parse(rows, scale):
    return [[int(v) * scale for v in r.replace('|', ' ').split()] for r in rows]

d_vals = parse(anom_d, 0.1)
e_vals = parse(anom_e, 0.01)

fig = go.Figure()
LW = 0.8

def add_models(xs, data, xa, ya):
    for i, vals in enumerate(data):
        fig.add_trace(go.Scatter(x=xs[:len(vals)], y=vals, mode='lines', xaxis=xa, yaxis=ya,
                                 line=dict(color=colors[i], width=LW, shape='spline', smoothing=1.0),
                                 opacity=0.9, hoverinfo='skip', showlegend=False))

add_models(years_ab, temp_a, 'x', 'y')
fig.add_trace(go.Scatter(x=mean_a_years, y=mean_a, mode='lines', xaxis='x', yaxis='y',
                         line=dict(color='black', width=2.4, shape='spline'), showlegend=False))
add_models(years_ab, temp_b, 'x2', 'y2')
fig.add_trace(go.Scatter(x=mean_b_years, y=mean_b, mode='lines', xaxis='x2', yaxis='y2',
                         line=dict(color='black', width=2.4, shape='spline'), showlegend=False))
add_models(years_c, ice_c, 'x3', 'y3')
fig.add_trace(go.Scatter(x=mean_c_years, y=mean_c, mode='lines', xaxis='x3', yaxis='y3',
                         line=dict(color='black', width=2.4, shape='spline'), showlegend=False))
add_models(years_de, d_vals, 'x4', 'y4')
fig.add_trace(go.Scatter(x=var_years, y=var_d, mode='lines', xaxis='x4', yaxis='y5',
                         line=dict(color='black', width=2.8), showlegend=False))
add_models(years_de, e_vals, 'x5', 'y6')
fig.add_trace(go.Scatter(x=var_years, y=var_e, mode='lines', xaxis='x5', yaxis='y7',
                         line=dict(color='black', width=2.8, shape='spline'), showlegend=False))

FONT = 'Liberation Sans, Arial, sans-serif'
TXT = '#222222'
LC = '#aaaaaa'
tickfont = dict(family=FONT, size=8, color=TXT)
common = dict(showline=True, linecolor=LC, linewidth=0.8, ticks='outside', ticklen=2, tickcolor=LC,
              tickwidth=0.8, showgrid=False, zeroline=False, tickfont=tickfont, automargin=False)
xt = dict(range=[1850, 2100], tickvals=[1850, 1900, 1950, 2000, 2050, 2100], mirror=True, **common)

dom_a = [px(27), px(176)]; dom_b = [px(230), px(379)]; dom_c = [px(432), px(579)]
dom_top = [py(79), py(16)]
dom_d = [px(26.7), px(263.3)]; dom_e = [px(339.3), px(572.7)]
dom_bot = [py(251), py(132)]

fig.update_layout(
    template='none',
    width=W, height=H, margin=dict(l=0, r=0, t=0, b=0, pad=0), autosize=False,
    paper_bgcolor='white', plot_bgcolor='white', showlegend=False,
    font=dict(family=FONT, color=TXT),
    xaxis=dict(domain=dom_a, anchor='y', **xt),
    yaxis=dict(domain=dom_top, anchor='x', range=[13.4, 21], tickvals=[14, 16, 18, 20], mirror=True, **common),
    xaxis2=dict(domain=dom_b, anchor='y2', **xt),
    yaxis2=dict(domain=dom_top, anchor='x2', range=[-30, 10], tickvals=[-30, -20, -10, 0, 10],
                ticktext=['-30', '-20', '-10', '0', '10'], mirror=True, **common),
    xaxis3=dict(domain=dom_c, anchor='y3', **xt),
    yaxis3=dict(domain=dom_top, anchor='x3', range=[0, 12.4], tickvals=[0, 5, 10], mirror=True, **common),
    xaxis4=dict(domain=dom_d, anchor='y4', **xt),
    yaxis4=dict(domain=dom_bot, anchor='x4', range=[-3.3, 3.25], tickvals=[-3, -2, -1, 0, 1, 2, 3],
                ticktext=['-3', '-2', '-1', '0', '1', '2', '3'], mirror=True, **common),
    yaxis5=dict(domain=dom_bot, anchor='x4', overlaying='y4', side='right', range=[0.20, 0.375],
                tickvals=[0.20, 0.25, 0.30, 0.35], ticktext=['0.20', '0.25', '0.30', '0.35'], **common),
    xaxis5=dict(domain=dom_e, anchor='y6', **xt),
    yaxis6=dict(domain=dom_bot, anchor='x5', range=[-1.3, 1.25], tickvals=[-1, -0.5, 0, 0.5, 1],
                ticktext=['-1.0', '-0.5', '0', '0.5', '1.0'], mirror=True, **common),
    yaxis7=dict(domain=dom_bot, anchor='x5', overlaying='y6', side='right', range=[0, 0.036],
                tickvals=[0, 0.005, 0.01, 0.015, 0.02, 0.025, 0.03, 0.035],
                ticktext=['0', '0.005', '0.010', '0.015', '0.020', '0.025', '0.030', '0.035'], **common),
)

ann = []
shapes = []
def text(x, y, s, size=8.5, angle=0, xanchor='center', bold=False, color=TXT, yanchor='middle'):
    ann.append(dict(x=px(x), y=py(y), xref='paper', yref='paper', text=('<b>%s</b>' % s) if bold else s,
                    showarrow=False, textangle=angle, xanchor=xanchor, yanchor=yanchor,
                    font=dict(family=FONT, size=size, color=color)))

# panel letters
for lab, x, y in [('a', 0, -1), ('b', 197, -1), ('c', 395, -1), ('d', 0, 110), ('e', 306, 111)]:
    text(x, y, lab, size=11.5, xanchor='left', bold=True, color='black', yanchor='top')

# axis titles
text(5, 42, 'Temperature (°C)', angle=-90)
text(205, 46, 'Temperature (°C)', angle=-90)
text(399, 47, 'Sea-ice area<br>(10<sup>6</sup> km<sup>2</sup>)', angle=-90)
text(101, 98, 'Year'); text(304, 98, 'Year'); text(505, 98, 'Year')
text(6, 197, 'Temperature anomaly (°C)', angle=-90)
text(296, 193, 'Temperature anomaly variance (°C<sup>2</sup>)', angle=90)
text(145, 268, 'Year')
text(313, 197, 'Temperature anomaly (°C)', angle=-90)
text(608, 196, 'Temperature anomaly variance (°C<sup>2</sup>)', angle=90)
text(456, 268, 'Year')
text(436, 71, 'Threshold of practically ice-free', size=6.3, xanchor='left')

# in-panel ensemble labels
for x0, x1, y, tx, s in [(35, 43, 24, 47, 'Ensemble mean'), (234, 242, 24, 246, 'Ensemble mean'),
                          (433, 439, 24, 441.5, 'Ensemble mean'),
                          (37, 48, 140, 51, 'Ensemble mean 100 yr moving variance'),
                          (347, 356, 140, 360, 'Ensemble mean 100 yr moving variance')]:
    shapes.append(dict(type='line', xref='paper', yref='paper', x0=px(x0), x1=px(x1), y0=py(y), y1=py(y),
                       line=dict(color='black', width=2.6)))
    text(tx, y, s, size=7.5, xanchor='left')

# model legend
for i, (m, c) in enumerate(zip(models, colors)):
    yy = 7 + i * 6.54
    shapes.append(dict(type='line', xref='paper', yref='paper', x0=px(620), x1=px(628), y0=py(yy), y1=py(yy),
                       line=dict(color=c, width=1.6)))
    text(632, yy, m, size=5.3, xanchor='left', color='#444444')

fig.update_layout(annotations=ann, shapes=shapes)
fig.write_html('out.html', config={'displayModeBar': False, 'staticPlot': True},
               post_script="document.body.style.margin='0';document.body.style.padding='0';"
                           "document.body.style.overflow='hidden';")
